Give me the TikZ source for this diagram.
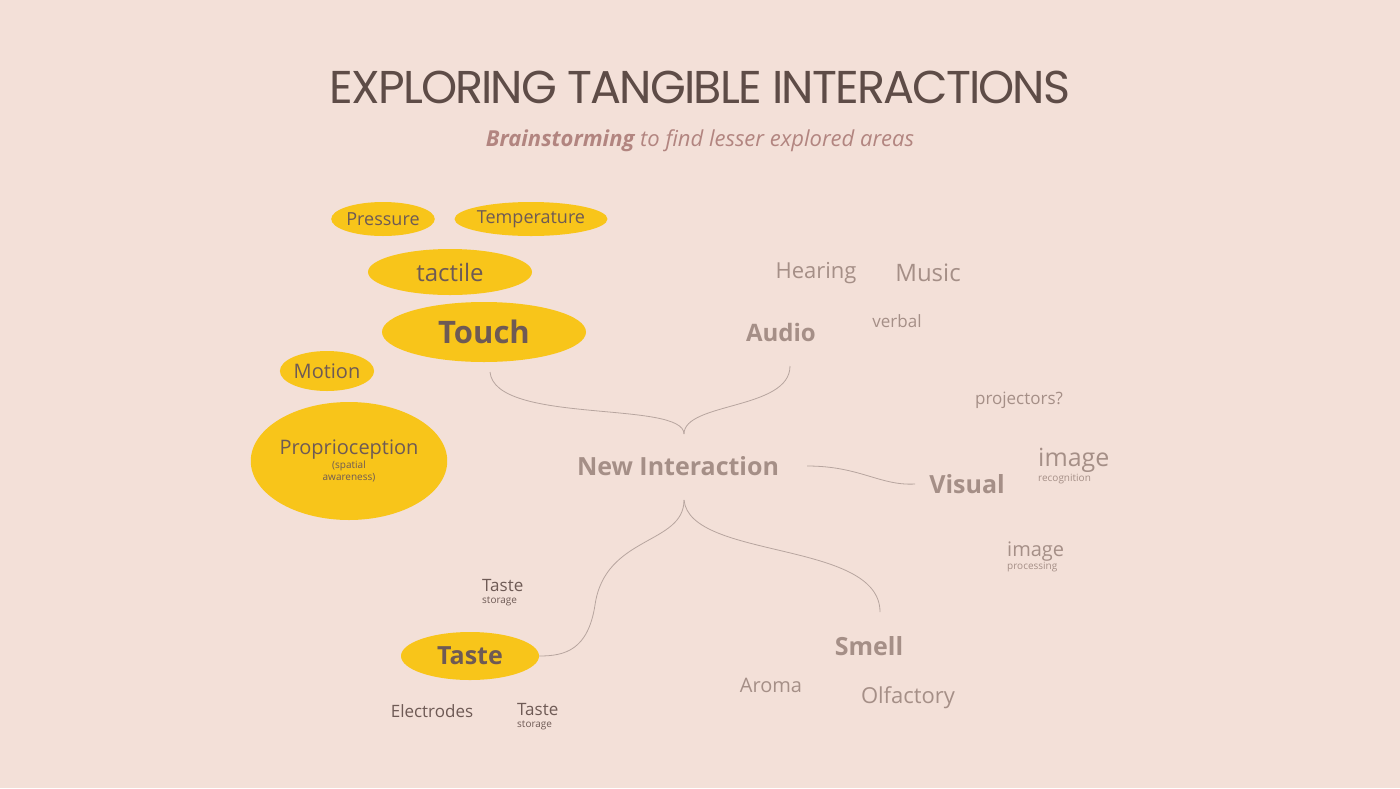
\documentclass[tikz,border=0pt]{standalone}
\usepackage{fontspec}
\setmainfont{Open Sans}
\newfontfamily\titlefont{Poppins}
\definecolor{bg}{HTML}{F3E0D8}
\definecolor{yel}{HTML}{F8C51A}
\definecolor{dk}{HTML}{6E5A55}
\definecolor{gr}{HTML}{A58F87}
\definecolor{ttl}{HTML}{5E4C47}
\definecolor{sub}{HTML}{B28580}
\tikzset{
 ell/.style={ellipse,fill=yel,inner sep=0pt,text=dk,align=center},
 lbl/.style={text=gr,align=left,inner sep=0pt},
 lbd/.style={text=dk,align=left,inner sep=0pt},
 con/.style={draw=gr!80,line width=0.8pt}
}
\usetikzlibrary{shapes.geometric}
\begin{document}
\begin{tikzpicture}[x=1pt,y=-1pt]
\fill[bg] (0,0) rectangle (1400,788);
\useasboundingbox (0,0) rectangle (1400,788);
\node[text=ttl,inner sep=0pt] (title) at (700,87) {\titlefont\fontsize{46}{50}\selectfont\addfontfeature{LetterSpace=-4}EXPLORING TANGIBLE INTERACTIONS};
\node[text=sub,inner sep=0pt] (sub) at (700,141) {\fontsize{22}{26}\selectfont\itshape\textbf{Brainstorming} to find lesser explored areas};
\node[ell,minimum width=100,minimum height=34] (pr) at (383,219) {\fontsize{18}{20}\selectfont Pressure};
\node[ell,minimum width=144,minimum height=34] (te) at (531,219) {\fontsize{18}{20}\selectfont Temperature};
\node[ell,minimum width=164,minimum height=46] (ta) at (450,272) {\fontsize{24}{26}\selectfont tactile};
\node[ell,minimum width=204,minimum height=60] (to) at (484,332) {\fontsize{31}{32}\selectfont\bfseries Touch};
\node[ell,minimum width=94,minimum height=40] (mo) at (327,371) {\fontsize{20}{22}\selectfont Motion};
\node[ell,minimum width=188,minimum height=118] (pp) at (349,461) {\fontsize{20}{30}\selectfont Proprioception\\(spatial\\awareness)};
\node[ell,minimum width=138,minimum height=48] (ts) at (470,656) {\fontsize{25}{26}\selectfont\bfseries Taste};
\node[lbl] (he) at (816,273) {\fontsize{22}{24}\selectfont Hearing};
\node[lbl] (mu) at (928,273) {\fontsize{24}{26}\selectfont Music};
\node[lbl] (au) at (781,332) {\fontsize{24}{26}\selectfont\bfseries Audio};
\node[lbl] (ve) at (897,321) {\fontsize{17}{20}\selectfont verbal};
\node[lbl] (pj) at (1019,400) {\fontsize{17}{20}\selectfont projectors?};
\node[lbl,anchor=west] (ir) at (1038,466) {\fontsize{25}{36}\selectfont image\\recognition};
\node[lbl] (vi) at (967,484) {\fontsize{25}{26}\selectfont\bfseries Visual};
\node[lbl,anchor=west] (ip) at (1007,557) {\fontsize{20}{29}\selectfont image\\processing};
\node[lbl] (ni) at (678,466) {\fontsize{25}{26}\selectfont\bfseries New Interaction};
\node[lbd,anchor=west] (t1) at (482,593) {\fontsize{17}{24}\selectfont Taste\\storage};
\node[lbd] (el) at (432,711) {\fontsize{17}{20}\selectfont Electrodes};
\node[lbd,anchor=west] (t2) at (517,717) {\fontsize{17}{24}\selectfont Taste\\storage};
\node[lbl] (sm) at (869,646) {\fontsize{25}{26}\selectfont\bfseries Smell};
\node[lbl] (ar) at (771,685) {\fontsize{20}{22}\selectfont Aroma};
\node[lbl] (ol) at (908,698) {\fontsize{22}{24}\selectfont Olfactory};
\coordinate (top) at (684,434);
\coordinate (bot) at (684,500);
\coordinate (tl) at (490,372);
\coordinate (ar1) at (790,366);
\coordinate (vl) at (915,484);
\coordinate (smt) at (880,612);
\draw[con] (top) .. controls (684,400) and (495,425) .. (tl);
\draw[con] (top) .. controls (684,402) and (790,410) .. (ar1);
\draw[con] (ni.east) ++(28,0) .. controls (860,466) and (880,486) .. (vl);
\draw[con] (bot) .. controls (684,545) and (605,535) .. (595,605) .. controls (588,650) and (565,656) .. (ts.east);
\draw[con] (bot) .. controls (690,560) and (880,540) .. (smt);
\end{tikzpicture}
\end{document}
